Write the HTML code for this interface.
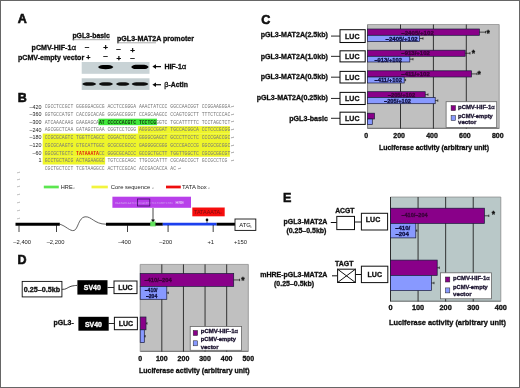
<!DOCTYPE html>
<html lang="en"><head><meta charset="utf-8"><title>Figure</title>
<style>
html,body{margin:0;padding:0;background:#fff;}
body{width:520px;height:388px;overflow:hidden;}
svg{display:block;font-family:"Liberation Sans",Arial,Helvetica,sans-serif;}
.seq{font-family:"Liberation Mono","DejaVu Sans Mono",monospace;}
</style></head><body>
<svg width="520" height="388" viewBox="0 0 520 388">
<defs><filter id="bl" x="-10%" y="-50%" width="120%" height="200%"><feGaussianBlur stdDeviation="0.7"/></filter>
<filter id="soft" x="0" y="0" width="520" height="388" filterUnits="userSpaceOnUse"><feGaussianBlur stdDeviation="0.35"/></filter></defs>
<rect x="0" y="0" width="520" height="388" fill="#fff"/>
<g id="fig" filter="url(#soft)">

<text x="17.7" y="23.3" font-size="12.5" text-anchor="start" font-weight="bold" fill="#111" stroke="#111" stroke-width="0.6">A</text>
<text x="17.7" y="102.3" font-size="12.5" text-anchor="start" font-weight="bold" fill="#111" stroke="#111" stroke-width="0.6">B</text>
<text x="261.3" y="23.7" font-size="12.5" text-anchor="start" font-weight="bold" fill="#111" stroke="#111" stroke-width="0.6">C</text>
<text x="17.5" y="263.8" font-size="12.5" text-anchor="start" font-weight="bold" fill="#111" stroke="#111" stroke-width="0.6">D</text>
<text x="283" y="202.1" font-size="12.5" text-anchor="start" font-weight="bold" fill="#111" stroke="#111" stroke-width="0.6">E</text>
<text x="72.4" y="38.0" font-size="7" text-anchor="start" font-weight="bold" fill="#111" textLength="37.4" lengthAdjust="spacingAndGlyphs" stroke="#111" stroke-width="0.32" >pGL3-basic</text>
<line x1="72.40" y1="39.70" x2="110.00" y2="39.70" stroke="#888" stroke-width="0.7" />
<text x="117" y="41.1" font-size="7" text-anchor="start" font-weight="bold" fill="#111" textLength="77" lengthAdjust="spacingAndGlyphs" stroke="#111" stroke-width="0.32" >pGL3-MAT2A promoter</text>
<line x1="117.00" y1="42.80" x2="156.00" y2="42.80" stroke="#888" stroke-width="0.7" />
<text x="76" y="49.6" font-size="7.1" text-anchor="end" font-weight="bold" fill="#111" stroke="#111" stroke-width="0.32" >pCMV-HIF-1<tspan font-weight="normal" font-size="8">α</tspan></text>
<text x="90.3" y="59.6" font-size="7.1" text-anchor="end" font-weight="bold" fill="#111" stroke="#111" stroke-width="0.32" >pCMV-empty vector +</text>
<text x="87" y="49.3" font-size="8" text-anchor="middle" font-weight="bold" fill="#111" stroke="#111" stroke-width="0.32" >–</text>
<text x="105.7" y="50.2" font-size="8" text-anchor="middle" font-weight="bold" fill="#111" stroke="#111" stroke-width="0.32" >+</text>
<text x="118.5" y="51.2" font-size="8" text-anchor="middle" font-weight="bold" fill="#111" stroke="#111" stroke-width="0.32" >–</text>
<text x="132.7" y="53" font-size="8" text-anchor="middle" font-weight="bold" fill="#111" stroke="#111" stroke-width="0.32" >+</text>
<text x="105.4" y="58.2" font-size="8" text-anchor="middle" font-weight="bold" fill="#111" stroke="#111" stroke-width="0.32" >–</text>
<text x="118.9" y="61.3" font-size="8" text-anchor="middle" font-weight="bold" fill="#111" stroke="#111" stroke-width="0.32" >+</text>
<text x="132.5" y="59.7" font-size="8" text-anchor="middle" font-weight="bold" fill="#111" stroke="#111" stroke-width="0.32" >–</text>
<rect x="81.70" y="62.00" width="67.80" height="11.80" fill="#c9d3d6" />
<rect x="81.70" y="78.30" width="67.80" height="11.60" fill="#c3ced1" />
<g filter="url(#bl)">
<path d="M98.0,67.1 C99.5,65.00 102.0,65.00 105.7,65.00 C109.4,65.00 111.9,65.00 113.4,67.1 C111.9,69.20 109.4,69.20 105.7,69.20 C102.0,69.20 99.5,69.20 98.0,67.1 Z" fill="#060606"/>
<path d="M131.2,66.9 C132.7,64.70 135.2,64.70 139.9,64.70 C144.6,64.70 147.1,64.70 148.6,66.9 C147.1,69.10 144.6,69.10 139.9,69.10 C135.2,69.10 132.7,69.10 131.2,66.9 Z" fill="#060606"/>
<path d="M82.2,83.9 C83.7,82.15 86.2,82.15 89.2,82.15 C92.2,82.15 94.7,82.15 96.2,83.9 C94.7,85.65 92.2,85.65 89.2,85.65 C86.2,85.65 83.7,85.65 82.2,83.9 Z" fill="#0a0a0a"/>
<path d="M98.8,83.9 C100.3,82.15 102.8,82.15 105.9,82.15 C109.0,82.15 111.5,82.15 113.0,83.9 C111.5,85.65 109.0,85.65 105.9,85.65 C102.8,85.65 100.3,85.65 98.8,83.9 Z" fill="#0a0a0a"/>
<path d="M116.0,83.9 C117.5,82.15 120.0,82.15 122.8,82.15 C125.6,82.15 128.1,82.15 129.6,83.9 C128.1,85.65 125.6,85.65 122.8,85.65 C120.0,85.65 117.5,85.65 116.0,83.9 Z" fill="#0a0a0a"/>
<path d="M131.6,83.9 C133.1,82.15 135.6,82.15 140.0,82.15 C144.4,82.15 146.9,82.15 148.4,83.9 C146.9,85.65 144.4,85.65 140.0,85.65 C135.6,85.65 133.1,85.65 131.6,83.9 Z" fill="#0a0a0a"/>
</g>
<line x1="154.40" y1="66.60" x2="161.00" y2="66.60" stroke="#111" stroke-width="1.2" />
<path d="M152.4,66.6 L156.0,64.3 L156.0,68.89999999999999 Z" fill="#111"/>
<line x1="154.40" y1="84.70" x2="161.00" y2="84.70" stroke="#111" stroke-width="1.2" />
<path d="M152.4,84.7 L156.0,82.4 L156.0,87.0 Z" fill="#111"/>
<text x="164.4" y="69.1" font-size="7.1" text-anchor="start" font-weight="bold" fill="#111" textLength="21.9" lengthAdjust="spacingAndGlyphs" stroke="#111" stroke-width="0.32" >HIF-1<tspan font-weight="normal" font-size="8">α</tspan></text>
<text x="164.2" y="87" font-size="7.1" text-anchor="start" font-weight="bold" fill="#111" textLength="23.7" lengthAdjust="spacingAndGlyphs" stroke="#111" stroke-width="0.32" ><tspan font-weight="normal" font-size="7.6">β</tspan>-Actin</text>
<rect x="137.92" y="126.17" width="91.96" height="7.50" fill="#eef52c" />
<rect x="42.70" y="133.56" width="187.17" height="23.18" fill="#eef52c" />
<rect x="42.70" y="156.63" width="62.45" height="7.90" fill="#eef52c" />
<rect x="98.44" y="118.68" width="58.50" height="6.50" fill="#3fe83a" />
<text x="41.6" y="108.60000000000001" font-size="5.4" text-anchor="end" font-weight="normal" fill="#222" >–420</text>
<text x="231" y="108.10000000000001" font-size="3.6" text-anchor="start" font-weight="normal" fill="#777" >↵</text>
<text class="seq" x="44.70" y="108.40" font-size="4.758" fill="#777" textLength="185.57" lengthAdjust="spacing">CGCCTCCGCT GGGGGACGCG ACCTCCGGGA AAACTATCCC GGCCAACGGT CCGGAAGGGA</text>
<text x="41.6" y="116.29" font-size="5.4" text-anchor="end" font-weight="normal" fill="#222" >–360</text>
<text x="231" y="115.79" font-size="3.6" text-anchor="start" font-weight="normal" fill="#777" >↵</text>
<text class="seq" x="44.70" y="116.09" font-size="4.758" fill="#777" textLength="185.57" lengthAdjust="spacing">GGTGCCATGT CACCGCACAG GGGAGCGGGT CCAGCAAGCC CCAGTCGCTT TTTCTCCCAC</text>
<text x="41.6" y="123.98" font-size="5.4" text-anchor="end" font-weight="normal" fill="#222" >–300</text>
<text x="231" y="123.48" font-size="3.6" text-anchor="start" font-weight="normal" fill="#777" >↵</text>
<text class="seq" x="44.70" y="123.78" font-size="4.758" fill="#777" textLength="185.57" lengthAdjust="spacing">ATCAAACAAG GAAGAGCA<tspan font-weight="bold" fill="#113311">AT CCCCCACGTC TCCTCG</tspan>GGTC TGCATTTTTC TCCTAGCTCT</text>
<text x="41.6" y="131.67" font-size="5.4" text-anchor="end" font-weight="normal" fill="#222" >–240</text>
<text x="231" y="131.17" font-size="3.6" text-anchor="start" font-weight="normal" fill="#777" >↵</text>
<text class="seq" x="44.70" y="131.47" font-size="4.758" fill="#777" textLength="185.57" lengthAdjust="spacing">AGCGGCTCAA GATAGCTGAA CGGTCCTCGG AGGGCCGGAT TGCCACGGCA CCTCCCGCGG</text>
<text x="41.6" y="139.35999999999999" font-size="5.4" text-anchor="end" font-weight="normal" fill="#222" >–180</text>
<text x="231" y="138.85999999999999" font-size="3.6" text-anchor="start" font-weight="normal" fill="#777" >↵</text>
<text class="seq" x="44.70" y="139.16" font-size="4.758" fill="#777" textLength="185.57" lengthAdjust="spacing">CCGCGCAGTC TGGTTCAGCC CGGACTCCGC GGGGCGAGCT GCCCTTCCTC CCCCGACCGC</text>
<text x="41.6" y="147.04999999999998" font-size="5.4" text-anchor="end" font-weight="normal" fill="#222" >–120</text>
<text x="231" y="146.54999999999998" font-size="3.6" text-anchor="start" font-weight="normal" fill="#777" >↵</text>
<text class="seq" x="44.70" y="146.85" font-size="4.758" fill="#777" textLength="185.57" lengthAdjust="spacing">CGCGCAAGTG GTGCATTGGC GCGCGCGCCC GAGGGGCGGG GCCCGACCCG GGCGCGCGGC</text>
<text x="41.6" y="154.73999999999998" font-size="5.4" text-anchor="end" font-weight="normal" fill="#222" >–60</text>
<text x="231" y="154.23999999999998" font-size="3.6" text-anchor="start" font-weight="normal" fill="#777" >↵</text>
<text class="seq" x="44.70" y="154.54" font-size="4.758" fill="#777" textLength="185.57" lengthAdjust="spacing">GGCGCTGCTC <tspan font-weight="bold" fill="#e02010">TATAAATA</tspan>CC GGGCGCACCC GCCGCTGCTT TGGTTGGCTC CGCGCGGCGT</text>
<text x="41.6" y="162.42999999999998" font-size="5.4" text-anchor="end" font-weight="normal" fill="#222" >1</text>
<text x="231" y="161.92999999999998" font-size="3.6" text-anchor="start" font-weight="normal" fill="#777" >↵</text>
<text class="seq" x="44.70" y="162.23" font-size="4.758" fill="#777" textLength="182.72" lengthAdjust="spacing">GCCTGCTACG ACTAGAAGGC TGTCCGCAGC TTGCGCATTT CGCAGCCGCT GCCGCCTCG</text>
<text x="177.53000000000003" y="169.61999999999998" font-size="3.6" text-anchor="start" font-weight="normal" fill="#777" >↵</text>
<text class="seq" x="44.70" y="169.92" font-size="4.758" fill="#777" textLength="131.33" lengthAdjust="spacing">CGCTGCTCCT TCGTAAGGCC ACTTCCGCAC ACCGACACCA AC</text>
<line x1="43.80" y1="187.00" x2="58.80" y2="187.00" stroke="#5ce650" stroke-width="2.7" />
<text x="60.8" y="189.2" font-size="5.6" text-anchor="start" font-weight="normal" fill="#222" >HRE</text>
<text x="73.4" y="189.4" font-size="3.4" text-anchor="start" font-weight="normal" fill="#777" >↵</text>
<line x1="91.50" y1="187.00" x2="107.80" y2="187.00" stroke="#f2f43c" stroke-width="2.7" />
<text x="110.8" y="189.2" font-size="5.6" text-anchor="start" font-weight="normal" fill="#222" textLength="39.4" lengthAdjust="spacingAndGlyphs" >Core sequence</text>
<text x="151.5" y="189.4" font-size="3.4" text-anchor="start" font-weight="normal" fill="#777" >↵</text>
<line x1="166.00" y1="187.00" x2="180.80" y2="187.00" stroke="#ee1111" stroke-width="2.7" />
<text x="182" y="189.2" font-size="5.6" text-anchor="start" font-weight="normal" fill="#222" textLength="24.8" lengthAdjust="spacingAndGlyphs" >TATA box</text>
<text x="208" y="189.4" font-size="3.4" text-anchor="start" font-weight="normal" fill="#777" >↵</text>
<text x="17" y="174" font-size="3.5" text-anchor="start" font-weight="normal" fill="#999" >↵</text>
<text x="17" y="181" font-size="3.5" text-anchor="start" font-weight="normal" fill="#999" >↵</text>
<text x="17" y="188" font-size="3.5" text-anchor="start" font-weight="normal" fill="#999" >↵</text>
<text x="17" y="196" font-size="3.5" text-anchor="start" font-weight="normal" fill="#999" >↵</text>
<text x="17" y="204" font-size="3.5" text-anchor="start" font-weight="normal" fill="#999" >↵</text>
<text x="17" y="212" font-size="3.5" text-anchor="start" font-weight="normal" fill="#999" >↵</text>
<text x="17" y="219.5" font-size="3.5" text-anchor="start" font-weight="normal" fill="#999" >↵</text>
<rect x="112.40" y="196.70" width="78.60" height="11.10" fill="#b840ea" />
<text class="seq" x="115" y="203.6" font-size="3.6" fill="#cc98ee" textLength="58" lengthAdjust="spacingAndGlyphs">GAAGAGCAATCCCCCACGTCTCCTCGGTCTGC</text>
<rect x="137.50" y="199.00" width="12.30" height="7.00" fill="none" stroke="#40106a" stroke-width="0.8" />
<text x="175.6" y="203.9" font-size="4" text-anchor="start" font-weight="normal" fill="#f0e0fc" >HRE</text>
<rect x="192.30" y="207.50" width="32.40" height="8.80" fill="#f60e0e" />
<text x="194" y="214" font-size="5.6" text-anchor="start" font-weight="normal" fill="#7a0606" textLength="26" lengthAdjust="spacingAndGlyphs" >TATAAATA</text>
<text x="220.4" y="214" font-size="3.4" text-anchor="start" font-weight="normal" fill="#8a1010" >↵</text>
<line x1="153.00" y1="208.00" x2="153.00" y2="220.50" stroke="#111" stroke-width="0.8" />
<path d="M153,223.3 L151.2,219.6 L154.8,219.6 Z" fill="#111"/>
<line x1="15.50" y1="224.20" x2="59.80" y2="224.20" stroke="#000" stroke-width="2.9" />
<path d="M59.8,224.2 C66,226 70,231.5 74,230.5 C78,229.5 78.5,217.5 85,216.8 C91.5,216.2 94.5,224.2 106,224.2" fill="none" stroke="#222" stroke-width="0.7"/>
<line x1="106.00" y1="224.20" x2="151.00" y2="224.20" stroke="#000" stroke-width="2.9" />
<rect x="150.20" y="221.50" width="5.60" height="4.90" fill="#62e25c" />
<line x1="155.40" y1="224.20" x2="162.80" y2="224.20" stroke="#000" stroke-width="2.9" />
<line x1="162.80" y1="224.20" x2="216.60" y2="224.20" stroke="#1a40ee" stroke-width="2.7" />
<line x1="216.60" y1="224.20" x2="235.00" y2="224.20" stroke="#000" stroke-width="2.9" />
<rect x="235.00" y="219.00" width="20.80" height="11.40" fill="#fff" stroke="#111" stroke-width="0.9" />
<text x="239.2" y="227.2" font-size="5.9" text-anchor="start" font-weight="normal" fill="#111" >ATG</text>
<text x="250.2" y="227.6" font-size="3.4" text-anchor="start" font-weight="normal" fill="#666" >↵</text>
<line x1="19.00" y1="225.00" x2="19.00" y2="232.00" stroke="#111" stroke-width="0.8" />
<line x1="56.50" y1="225.00" x2="56.50" y2="232.00" stroke="#111" stroke-width="0.8" />
<line x1="127.50" y1="225.00" x2="127.50" y2="232.00" stroke="#111" stroke-width="0.8" />
<line x1="168.10" y1="225.00" x2="168.10" y2="232.00" stroke="#111" stroke-width="0.8" />
<line x1="213.20" y1="225.00" x2="213.20" y2="232.00" stroke="#111" stroke-width="0.8" />
<circle cx="207" cy="219.9" r="1.3" fill="#111"/>
<line x1="207.00" y1="219.90" x2="207.00" y2="223.00" stroke="#111" stroke-width="0.6" />
<text x="22.2" y="243.9" font-size="5.8" text-anchor="middle" font-weight="normal" fill="#222" >–2,400</text>
<text x="55.5" y="243.9" font-size="5.8" text-anchor="middle" font-weight="normal" fill="#222" >–2,200</text>
<text x="124.6" y="243.9" font-size="5.8" text-anchor="middle" font-weight="normal" fill="#222" >–400</text>
<text x="165.8" y="243.9" font-size="5.8" text-anchor="middle" font-weight="normal" fill="#222" >–200</text>
<text x="210.7" y="243.9" font-size="5.8" text-anchor="middle" font-weight="normal" fill="#222" >+1</text>
<text x="240.5" y="243.9" font-size="5.8" text-anchor="middle" font-weight="normal" fill="#222" >+150</text>
<text x="327.9" y="37.3" font-size="7.1" text-anchor="end" font-weight="bold" fill="#111" stroke="#111" stroke-width="0.32" >pGL3-MAT2A(2.5kb)</text>
<line x1="331.00" y1="36.10" x2="340.00" y2="36.10" stroke="#111" stroke-width="0.9" />
<rect x="340.00" y="29.70" width="25.20" height="12.80" fill="#fff" stroke="#111" stroke-width="1.05" />
<text x="352.3" y="38.7" font-size="7" text-anchor="middle" font-weight="bold" fill="#111" stroke="#111" stroke-width="0.32" >LUC</text>
<text x="327.9" y="58.7" font-size="7.1" text-anchor="end" font-weight="bold" fill="#111" stroke="#111" stroke-width="0.32" >pGL3-MAT2A(1.0kb)</text>
<line x1="331.00" y1="56.35" x2="340.00" y2="56.35" stroke="#111" stroke-width="0.9" />
<rect x="340.00" y="50.80" width="25.20" height="11.10" fill="#fff" stroke="#111" stroke-width="1.05" />
<text x="352.3" y="58.949999999999996" font-size="7" text-anchor="middle" font-weight="bold" fill="#111" stroke="#111" stroke-width="0.32" >LUC</text>
<text x="327.9" y="79.1" font-size="7.1" text-anchor="end" font-weight="bold" fill="#111" stroke="#111" stroke-width="0.32" >pGL3-MAT2A(0.5kb)</text>
<line x1="331.00" y1="77.20" x2="340.00" y2="77.20" stroke="#111" stroke-width="0.9" />
<rect x="340.00" y="71.40" width="25.20" height="11.60" fill="#fff" stroke="#111" stroke-width="1.05" />
<text x="352.3" y="79.8" font-size="7" text-anchor="middle" font-weight="bold" fill="#111" stroke="#111" stroke-width="0.32" >LUC</text>
<text x="327.9" y="99.6" font-size="7.1" text-anchor="end" font-weight="bold" fill="#111" stroke="#111" stroke-width="0.32" >pGL3-MAT2A(0.25kb)</text>
<line x1="331.00" y1="98.45" x2="340.00" y2="98.45" stroke="#111" stroke-width="0.9" />
<rect x="340.00" y="92.40" width="25.20" height="12.10" fill="#fff" stroke="#111" stroke-width="1.05" />
<text x="352.3" y="101.05" font-size="7" text-anchor="middle" font-weight="bold" fill="#111" stroke="#111" stroke-width="0.32" >LUC</text>
<text x="327.9" y="121.2" font-size="7.1" text-anchor="end" font-weight="bold" fill="#111" stroke="#111" stroke-width="0.32" >pGL3-basic</text>
<line x1="331.00" y1="118.30" x2="340.00" y2="118.30" stroke="#111" stroke-width="0.9" />
<rect x="340.00" y="112.20" width="25.20" height="12.20" fill="#fff" stroke="#111" stroke-width="1.05" />
<text x="352.3" y="120.9" font-size="7" text-anchor="middle" font-weight="bold" fill="#111" stroke="#111" stroke-width="0.32" >LUC</text>
<rect x="367.60" y="24.50" width="131.60" height="104.10" fill="#c0c0c0" />
<line x1="367.60" y1="24.50" x2="499.20" y2="24.50" stroke="#777" stroke-width="0.6" />
<line x1="367.60" y1="128.30" x2="499.20" y2="128.30" stroke="#4a4a4a" stroke-width="0.8" />
<line x1="367.60" y1="24.50" x2="367.60" y2="128.60" stroke="#777" stroke-width="0.95" />
<text x="366.20000000000005" y="138.3" font-size="7" text-anchor="middle" font-weight="bold" fill="#111" stroke="#111" stroke-width="0.32" >0</text>
<line x1="400.50" y1="24.50" x2="400.50" y2="128.60" stroke="#2a2a2a" stroke-width="0.95" />
<text x="399.1" y="138.3" font-size="7" text-anchor="middle" font-weight="bold" fill="#111" stroke="#111" stroke-width="0.32" >200</text>
<line x1="433.40" y1="24.50" x2="433.40" y2="128.60" stroke="#2a2a2a" stroke-width="0.95" />
<text x="432.0" y="138.3" font-size="7" text-anchor="middle" font-weight="bold" fill="#111" stroke="#111" stroke-width="0.32" >400</text>
<line x1="466.30" y1="24.50" x2="466.30" y2="128.60" stroke="#2a2a2a" stroke-width="0.95" />
<text x="464.90000000000003" y="138.3" font-size="7" text-anchor="middle" font-weight="bold" fill="#111" stroke="#111" stroke-width="0.32" >600</text>
<line x1="499.20" y1="24.50" x2="499.20" y2="128.60" stroke="#8a8a8a" stroke-width="0.8" />
<text x="497.8" y="138.3" font-size="7" text-anchor="middle" font-weight="bold" fill="#111" stroke="#111" stroke-width="0.32" >800</text>
<rect x="367.60" y="29.00" width="111.80" height="6.30" fill="#890089" stroke="#1a1a3a" stroke-width="0.7" />
<line x1="479.40" y1="32.15" x2="485.50" y2="32.15" stroke="#111" stroke-width="0.7" />
<line x1="485.50" y1="30.95" x2="485.50" y2="33.35" stroke="#111" stroke-width="0.7" />
<text x="488.2" y="36.400000000000006" font-size="8.5" text-anchor="middle" font-weight="bold" fill="#111" stroke="#111" stroke-width="0.32" >*</text>
<rect x="367.60" y="35.30" width="52.00" height="6.30" fill="#8899ff" stroke="#1a1a3a" stroke-width="0.7" />
<line x1="419.60" y1="38.45" x2="423.00" y2="38.45" stroke="#111" stroke-width="0.7" />
<line x1="423.00" y1="37.25" x2="423.00" y2="39.65" stroke="#111" stroke-width="0.7" />
<rect x="367.60" y="50.20" width="97.60" height="6.10" fill="#890089" stroke="#1a1a3a" stroke-width="0.7" />
<line x1="465.20" y1="53.25" x2="470.00" y2="53.25" stroke="#111" stroke-width="0.7" />
<line x1="470.00" y1="52.05" x2="470.00" y2="54.45" stroke="#111" stroke-width="0.7" />
<text x="473.4" y="56.400000000000006" font-size="8.5" text-anchor="middle" font-weight="bold" fill="#111" stroke="#111" stroke-width="0.32" >*</text>
<rect x="367.60" y="56.30" width="42.20" height="5.70" fill="#8899ff" stroke="#1a1a3a" stroke-width="0.7" />
<line x1="409.80" y1="59.15" x2="413.00" y2="59.15" stroke="#111" stroke-width="0.7" />
<line x1="413.00" y1="57.95" x2="413.00" y2="60.35" stroke="#111" stroke-width="0.7" />
<rect x="367.60" y="70.80" width="103.90" height="6.20" fill="#890089" stroke="#1a1a3a" stroke-width="0.7" />
<line x1="471.50" y1="73.90" x2="477.00" y2="73.90" stroke="#111" stroke-width="0.7" />
<line x1="477.00" y1="72.70" x2="477.00" y2="75.10" stroke="#111" stroke-width="0.7" />
<text x="479.2" y="77.4" font-size="8.5" text-anchor="middle" font-weight="bold" fill="#111" stroke="#111" stroke-width="0.32" >*</text>
<rect x="367.60" y="77.00" width="36.60" height="6.00" fill="#8899ff" stroke="#1a1a3a" stroke-width="0.7" />
<line x1="404.20" y1="80.00" x2="405.60" y2="80.00" stroke="#111" stroke-width="0.7" />
<line x1="405.60" y1="78.80" x2="405.60" y2="81.20" stroke="#111" stroke-width="0.7" />
<rect x="367.60" y="91.70" width="57.60" height="5.80" fill="#890089" stroke="#1a1a3a" stroke-width="0.7" />
<line x1="425.20" y1="94.60" x2="428.00" y2="94.60" stroke="#111" stroke-width="0.7" />
<line x1="428.00" y1="93.40" x2="428.00" y2="95.80" stroke="#111" stroke-width="0.7" />
<rect x="367.60" y="97.50" width="67.60" height="6.20" fill="#8899ff" stroke="#1a1a3a" stroke-width="0.7" />
<line x1="435.20" y1="100.60" x2="437.80" y2="100.60" stroke="#111" stroke-width="0.7" />
<line x1="437.80" y1="99.40" x2="437.80" y2="101.80" stroke="#111" stroke-width="0.7" />
<rect x="367.60" y="113.20" width="6.90" height="5.80" fill="#890089" stroke="#1a1a3a" stroke-width="0.7" />
<rect x="367.60" y="119.00" width="4.70" height="5.60" fill="#8899ff" stroke="#1a1a3a" stroke-width="0.7" />
<text x="379" y="149.5" font-size="7" text-anchor="start" font-weight="bold" fill="#111" textLength="110" lengthAdjust="spacingAndGlyphs" stroke="#111" stroke-width="0.32" >Luciferase activity (arbitrary unit)</text>
<rect x="446.10" y="101.70" width="50.60" height="25.80" fill="#fff" stroke="#666" stroke-width="0.8" />
<rect x="451.10" y="105.60" width="4.40" height="5.00" fill="#890089" stroke="#222" stroke-width="0.5" />
<rect x="451.10" y="115.60" width="4.40" height="5.00" fill="#8899ff" stroke="#222" stroke-width="0.5" />
<text x="458" y="109.496" font-size="6.1" text-anchor="start" font-weight="bold" fill="#1c1430" textLength="36.8" lengthAdjust="spacingAndGlyphs" stroke="#1c1430" stroke-width="0.32" >pCMV-HIF-1<tspan font-weight="normal">α</tspan></text>
<text x="458" y="118.196" font-size="6.1" text-anchor="start" font-weight="bold" fill="#1c1430" textLength="34.775999999999996" lengthAdjust="spacingAndGlyphs" stroke="#1c1430" stroke-width="0.32" >pCMV-empty</text>
<text x="458" y="124.496" font-size="6.1" text-anchor="start" font-weight="bold" fill="#1c1430" stroke="#1c1430" stroke-width="0.32" >vector</text>
<text x="385.6" y="40.9" font-size="6" text-anchor="start" font-weight="bold" fill="#101040" textLength="32" lengthAdjust="spacingAndGlyphs" stroke="#101040" stroke-width="0.32" >–2405/+102</text>
<text x="401.3" y="35.1" font-size="6" text-anchor="start" font-weight="bold" fill="#3a003a" textLength="32.5" lengthAdjust="spacingAndGlyphs" stroke="#3a003a" stroke-width="0.32" >–2405/+102</text>
<text x="374.4" y="61.6" font-size="6" text-anchor="start" font-weight="bold" fill="#101040" textLength="27.6" lengthAdjust="spacingAndGlyphs" stroke="#101040" stroke-width="0.32" >–913/+102</text>
<text x="401.3" y="55.2" font-size="6" text-anchor="start" font-weight="bold" fill="#3a003a" textLength="28.5" lengthAdjust="spacingAndGlyphs" stroke="#3a003a" stroke-width="0.32" >–913/+102</text>
<text x="374.4" y="82.4" font-size="6" text-anchor="start" font-weight="bold" fill="#101040" textLength="27.6" lengthAdjust="spacingAndGlyphs" stroke="#101040" stroke-width="0.32" >–411/+102</text>
<text x="401.3" y="76" font-size="6" text-anchor="start" font-weight="bold" fill="#3a003a" textLength="28.5" lengthAdjust="spacingAndGlyphs" stroke="#3a003a" stroke-width="0.32" >–411/+102</text>
<text x="387.7" y="96.8" font-size="6" text-anchor="start" font-weight="bold" fill="#3a003a" textLength="27.6" lengthAdjust="spacingAndGlyphs" stroke="#3a003a" stroke-width="0.32" >–205/+102</text>
<text x="384" y="103" font-size="6" text-anchor="start" font-weight="bold" fill="#101040" textLength="27" lengthAdjust="spacingAndGlyphs" stroke="#101040" stroke-width="0.32" >–205/+102</text>
<rect x="22.20" y="281.40" width="39.70" height="15.50" fill="#fff" stroke="#111" stroke-width="0.9" />
<text x="41.9" y="291.6" font-size="7" text-anchor="middle" font-weight="bold" fill="#111" textLength="36.5" lengthAdjust="spacingAndGlyphs" stroke="#111" stroke-width="0.32" >0.25–0.5kb</text>
<path d="M61.9,289.3 C66,290 68,287 71,286.3 C74,285.6 75,285.5 77,285.4" fill="none" stroke="#111" stroke-width="0.8"/>
<rect x="77.40" y="280.20" width="30.10" height="14.40" fill="#000" />
<text x="92.3" y="290.1" font-size="7" text-anchor="middle" font-weight="bold" fill="#fff" textLength="17" lengthAdjust="spacingAndGlyphs" stroke="#fff" stroke-width="0.32" >SV40</text>
<line x1="107.60" y1="287.50" x2="114.00" y2="287.50" stroke="#111" stroke-width="0.9" />
<rect x="114.00" y="281.00" width="23.00" height="12.60" fill="#fff" stroke="#111" stroke-width="1" />
<text x="125.4" y="290" font-size="7" text-anchor="middle" font-weight="bold" fill="#111" stroke="#111" stroke-width="0.32" >LUC</text>
<text x="73.8" y="325.2" font-size="7" text-anchor="end" font-weight="bold" fill="#111" stroke="#111" stroke-width="0.32" >pGL3-</text>
<rect x="78.40" y="316.80" width="30.30" height="13.90" fill="#000" />
<text x="93.4" y="326.5" font-size="7" text-anchor="middle" font-weight="bold" fill="#fff" textLength="17" lengthAdjust="spacingAndGlyphs" stroke="#fff" stroke-width="0.32" >SV40</text>
<line x1="108.40" y1="323.50" x2="114.40" y2="323.50" stroke="#111" stroke-width="0.9" />
<rect x="114.40" y="317.30" width="23.00" height="12.40" fill="#fff" stroke="#111" stroke-width="1" />
<text x="125.9" y="326.2" font-size="7" text-anchor="middle" font-weight="bold" fill="#111" stroke="#111" stroke-width="0.32" >LUC</text>
<rect x="140.20" y="264.40" width="108.10" height="87.20" fill="#c0c0c0" />
<line x1="140.20" y1="264.40" x2="248.30" y2="264.40" stroke="#777" stroke-width="0.6" />
<line x1="140.20" y1="351.30" x2="248.30" y2="351.30" stroke="#4a4a4a" stroke-width="0.8" />
<line x1="140.20" y1="264.40" x2="140.20" y2="351.60" stroke="#999" stroke-width="0.95" />
<text x="140.2" y="361" font-size="7" text-anchor="middle" font-weight="bold" fill="#111" stroke="#111" stroke-width="0.32" >0</text>
<line x1="161.82" y1="264.40" x2="161.82" y2="351.60" stroke="#2a2a2a" stroke-width="0.95" />
<text x="161.82" y="361" font-size="7" text-anchor="middle" font-weight="bold" fill="#111" stroke="#111" stroke-width="0.32" >100</text>
<line x1="183.44" y1="264.40" x2="183.44" y2="351.60" stroke="#2a2a2a" stroke-width="0.95" />
<text x="183.44" y="361" font-size="7" text-anchor="middle" font-weight="bold" fill="#111" stroke="#111" stroke-width="0.32" >200</text>
<line x1="205.06" y1="264.40" x2="205.06" y2="351.60" stroke="#2a2a2a" stroke-width="0.95" />
<text x="205.06" y="361" font-size="7" text-anchor="middle" font-weight="bold" fill="#111" stroke="#111" stroke-width="0.32" >300</text>
<line x1="226.68" y1="264.40" x2="226.68" y2="351.60" stroke="#2a2a2a" stroke-width="0.95" />
<text x="226.68" y="361" font-size="7" text-anchor="middle" font-weight="bold" fill="#111" stroke="#111" stroke-width="0.32" >400</text>
<line x1="248.30" y1="264.40" x2="248.30" y2="351.60" stroke="#8a8a8a" stroke-width="0.8" />
<text x="248.3" y="361" font-size="7" text-anchor="middle" font-weight="bold" fill="#111" stroke="#111" stroke-width="0.32" >500</text>
<rect x="140.20" y="273.50" width="93.50" height="12.90" fill="#890089" stroke="#1a1a3a" stroke-width="0.7" />
<line x1="233.70" y1="279.95" x2="239.60" y2="279.95" stroke="#111" stroke-width="0.7" />
<line x1="239.60" y1="278.75" x2="239.60" y2="281.15" stroke="#111" stroke-width="0.7" />
<text x="243" y="283.2" font-size="8.5" text-anchor="middle" font-weight="bold" fill="#111" stroke="#111" stroke-width="0.32" >*</text>
<rect x="140.20" y="286.40" width="26.60" height="12.90" fill="#8899ff" stroke="#1a1a3a" stroke-width="0.7" />
<line x1="166.80" y1="292.85" x2="168.30" y2="292.85" stroke="#111" stroke-width="0.7" />
<line x1="168.30" y1="291.65" x2="168.30" y2="294.05" stroke="#111" stroke-width="0.7" />
<rect x="140.20" y="317.00" width="5.80" height="12.80" fill="#890089" stroke="#1a1a3a" stroke-width="0.7" />
<line x1="146.00" y1="323.40" x2="147.00" y2="323.40" stroke="#111" stroke-width="0.7" />
<line x1="147.00" y1="322.20" x2="147.00" y2="324.60" stroke="#111" stroke-width="0.7" />
<rect x="140.20" y="329.80" width="4.10" height="12.80" fill="#8899ff" stroke="#1a1a3a" stroke-width="0.7" />
<line x1="144.30" y1="336.20" x2="145.20" y2="336.20" stroke="#111" stroke-width="0.7" />
<line x1="145.20" y1="335.00" x2="145.20" y2="337.40" stroke="#111" stroke-width="0.7" />
<text x="139" y="372.5" font-size="7" text-anchor="start" font-weight="bold" fill="#111" textLength="110.6" lengthAdjust="spacingAndGlyphs" stroke="#111" stroke-width="0.32" >Luciferase activity (arbitrary unit)</text>
<rect x="190.20" y="326.50" width="51.40" height="23.80" fill="#fff" stroke="#666" stroke-width="0.8" />
<rect x="193.20" y="330.50" width="4.40" height="5.00" fill="#890089" stroke="#222" stroke-width="0.5" />
<rect x="193.20" y="340.80" width="4.40" height="5.00" fill="#8899ff" stroke="#222" stroke-width="0.5" />
<text x="200.8" y="333.42400000000004" font-size="5.9" text-anchor="start" font-weight="bold" fill="#1c1430" textLength="37.2" lengthAdjust="spacingAndGlyphs" stroke="#1c1430" stroke-width="0.32" >pCMV-HIF-1<tspan font-weight="normal">α</tspan></text>
<text x="200.8" y="341.324" font-size="5.9" text-anchor="start" font-weight="bold" fill="#1c1430" textLength="35.154" lengthAdjust="spacingAndGlyphs" stroke="#1c1430" stroke-width="0.32" >pCMV-empty</text>
<text x="200.8" y="348.624" font-size="5.9" text-anchor="start" font-weight="bold" fill="#1c1430" stroke="#1c1430" stroke-width="0.32" >vector</text>
<text x="144.4" y="282.3" font-size="6" text-anchor="start" font-weight="bold" fill="#3a003a" textLength="27.2" lengthAdjust="spacingAndGlyphs" stroke="#3a003a" stroke-width="0.32" >–410/–204</text>
<text x="144.8" y="292.4" font-size="5.8" text-anchor="start" font-weight="bold" fill="#101040" textLength="12.6" lengthAdjust="spacingAndGlyphs" stroke="#101040" stroke-width="0.32" >–410/</text>
<text x="146" y="298.4" font-size="5.8" text-anchor="start" font-weight="bold" fill="#101040" textLength="11.2" lengthAdjust="spacingAndGlyphs" stroke="#101040" stroke-width="0.32" >–204</text>
<text x="335.2" y="213" font-size="7" text-anchor="start" font-weight="bold" fill="#111" textLength="19.3" lengthAdjust="spacingAndGlyphs" stroke="#111" stroke-width="0.32" >ACGT</text>
<text x="327.4" y="223.5" font-size="7" text-anchor="end" font-weight="bold" fill="#111" stroke="#111" stroke-width="0.32" >pGL3-MAT2A</text>
<text x="326.4" y="232.8" font-size="7" text-anchor="end" font-weight="bold" fill="#111" textLength="40" lengthAdjust="spacingAndGlyphs" stroke="#111" stroke-width="0.32" >(0.25–0.5kb)</text>
<line x1="330.80" y1="222.50" x2="336.80" y2="222.50" stroke="#111" stroke-width="1" />
<rect x="336.80" y="216.40" width="17.70" height="13.20" fill="#fff" stroke="#111" stroke-width="1" />
<line x1="354.50" y1="222.00" x2="361.40" y2="222.00" stroke="#111" stroke-width="1" />
<rect x="361.40" y="213.30" width="26.20" height="16.70" fill="#fff" stroke="#111" stroke-width="1" />
<text x="373" y="222.2" font-size="7" text-anchor="middle" font-weight="bold" fill="#111" stroke="#111" stroke-width="0.32" >LUC</text>
<text x="335" y="265.8" font-size="7" text-anchor="start" font-weight="bold" fill="#111" textLength="18.5" lengthAdjust="spacingAndGlyphs" stroke="#111" stroke-width="0.32" >TAGT</text>
<text x="327.4" y="277.2" font-size="7" text-anchor="end" font-weight="bold" fill="#111" stroke="#111" stroke-width="0.32" >mHRE-pGL3-MAT2A</text>
<text x="314" y="285.9" font-size="7" text-anchor="end" font-weight="bold" fill="#111" textLength="40" lengthAdjust="spacingAndGlyphs" stroke="#111" stroke-width="0.32" >(0.25–0.5kb)</text>
<line x1="332.00" y1="275.80" x2="337.60" y2="275.80" stroke="#111" stroke-width="1" />
<rect x="337.60" y="269.20" width="17.80" height="13.30" fill="#fff" stroke="#111" stroke-width="1" />
<line x1="337.60" y1="269.20" x2="355.40" y2="282.50" stroke="#111" stroke-width="1" />
<line x1="337.60" y1="282.50" x2="355.40" y2="269.20" stroke="#111" stroke-width="1" />
<line x1="355.40" y1="274.50" x2="361.40" y2="274.50" stroke="#111" stroke-width="1" />
<rect x="361.40" y="266.20" width="26.40" height="16.40" fill="#fff" stroke="#111" stroke-width="1" />
<text x="374.8" y="277.3" font-size="7" text-anchor="middle" font-weight="bold" fill="#111" stroke="#111" stroke-width="0.32" >LUC</text>
<rect x="390.50" y="197.00" width="110.30" height="104.50" fill="#b9c8c8" />
<line x1="390.50" y1="197.00" x2="500.80" y2="197.00" stroke="#777" stroke-width="0.6" />
<line x1="390.50" y1="301.20" x2="500.80" y2="301.20" stroke="#4a4a4a" stroke-width="0.8" />
<line x1="390.50" y1="197.00" x2="390.50" y2="301.50" stroke="#222" stroke-width="0.95" />
<text x="390.5" y="310.2" font-size="7.3" text-anchor="middle" font-weight="bold" fill="#111" stroke="#111" stroke-width="0.32" >0</text>
<line x1="418.07" y1="197.00" x2="418.07" y2="301.50" stroke="#2a2a2a" stroke-width="0.95" />
<text x="418.075" y="310.2" font-size="7.3" text-anchor="middle" font-weight="bold" fill="#111" stroke="#111" stroke-width="0.32" >100</text>
<line x1="445.65" y1="197.00" x2="445.65" y2="301.50" stroke="#2a2a2a" stroke-width="0.95" />
<text x="445.65" y="310.2" font-size="7.3" text-anchor="middle" font-weight="bold" fill="#111" stroke="#111" stroke-width="0.32" >200</text>
<line x1="473.23" y1="197.00" x2="473.23" y2="301.50" stroke="#2a2a2a" stroke-width="0.95" />
<text x="473.225" y="310.2" font-size="7.3" text-anchor="middle" font-weight="bold" fill="#111" stroke="#111" stroke-width="0.32" >300</text>
<line x1="500.80" y1="197.00" x2="500.80" y2="301.50" stroke="#8a8a8a" stroke-width="0.8" />
<text x="500.8" y="310.2" font-size="7.3" text-anchor="middle" font-weight="bold" fill="#111" stroke="#111" stroke-width="0.32" >400</text>
<rect x="390.50" y="208.20" width="93.90" height="15.20" fill="#890089" stroke="#1a1a3a" stroke-width="0.7" />
<line x1="484.40" y1="215.80" x2="488.80" y2="215.80" stroke="#111" stroke-width="0.7" />
<line x1="488.80" y1="214.60" x2="488.80" y2="217.00" stroke="#111" stroke-width="0.7" />
<text x="493.5" y="217.39999999999998" font-size="8.5" text-anchor="middle" font-weight="bold" fill="#111" stroke="#111" stroke-width="0.32" >*</text>
<rect x="390.50" y="223.40" width="25.30" height="14.50" fill="#8899ff" stroke="#1a1a3a" stroke-width="0.7" />
<line x1="415.80" y1="230.65" x2="416.80" y2="230.65" stroke="#111" stroke-width="0.7" />
<line x1="416.80" y1="229.45" x2="416.80" y2="231.85" stroke="#111" stroke-width="0.7" />
<rect x="390.50" y="260.10" width="46.70" height="15.30" fill="#890089" stroke="#1a1a3a" stroke-width="0.7" />
<line x1="437.20" y1="267.75" x2="439.30" y2="267.75" stroke="#111" stroke-width="0.7" />
<line x1="439.30" y1="266.55" x2="439.30" y2="268.95" stroke="#111" stroke-width="0.7" />
<rect x="390.50" y="275.40" width="40.90" height="15.20" fill="#8899ff" stroke="#1a1a3a" stroke-width="0.7" />
<line x1="431.40" y1="283.00" x2="434.00" y2="283.00" stroke="#111" stroke-width="0.7" />
<line x1="434.00" y1="281.80" x2="434.00" y2="284.20" stroke="#111" stroke-width="0.7" />
<text x="388.9" y="324.7" font-size="7.3" text-anchor="start" font-weight="bold" fill="#111" textLength="117" lengthAdjust="spacingAndGlyphs" stroke="#111" stroke-width="0.32" >Luciferase activity (arbitrary unit)</text>
<rect x="440.50" y="272.80" width="51.00" height="26.00" fill="#fff" stroke="#666" stroke-width="0.8" />
<rect x="445.40" y="277.00" width="4.40" height="5.00" fill="#890089" stroke="#222" stroke-width="0.5" />
<rect x="445.40" y="287.90" width="4.40" height="5.00" fill="#8899ff" stroke="#222" stroke-width="0.5" />
<text x="453" y="280.132" font-size="6.2" text-anchor="start" font-weight="bold" fill="#1c1430" textLength="36.8" lengthAdjust="spacingAndGlyphs" stroke="#1c1430" stroke-width="0.32" >pCMV-HIF-1<tspan font-weight="normal">α</tspan></text>
<text x="453" y="289.432" font-size="6.2" text-anchor="start" font-weight="bold" fill="#1c1430" textLength="34.775999999999996" lengthAdjust="spacingAndGlyphs" stroke="#1c1430" stroke-width="0.32" >pCMV-empty</text>
<text x="453" y="296.132" font-size="6.2" text-anchor="start" font-weight="bold" fill="#1c1430" stroke="#1c1430" stroke-width="0.32" >vector</text>
<text x="401.5" y="217.4" font-size="6.2" text-anchor="start" font-weight="bold" fill="#3a003a" textLength="26" lengthAdjust="spacingAndGlyphs" stroke="#3a003a" stroke-width="0.32" >–410/–204</text>
<text x="395.2" y="230" font-size="6" text-anchor="start" font-weight="bold" fill="#101040" stroke="#101040" stroke-width="0.32" >–410/</text>
<text x="395.4" y="236" font-size="6" text-anchor="start" font-weight="bold" fill="#101040" stroke="#101040" stroke-width="0.32" >–204</text>
</g>
<rect x="0.5" y="0.5" width="519" height="387" fill="none" stroke="#666" stroke-width="1"/>
</svg></body></html>
